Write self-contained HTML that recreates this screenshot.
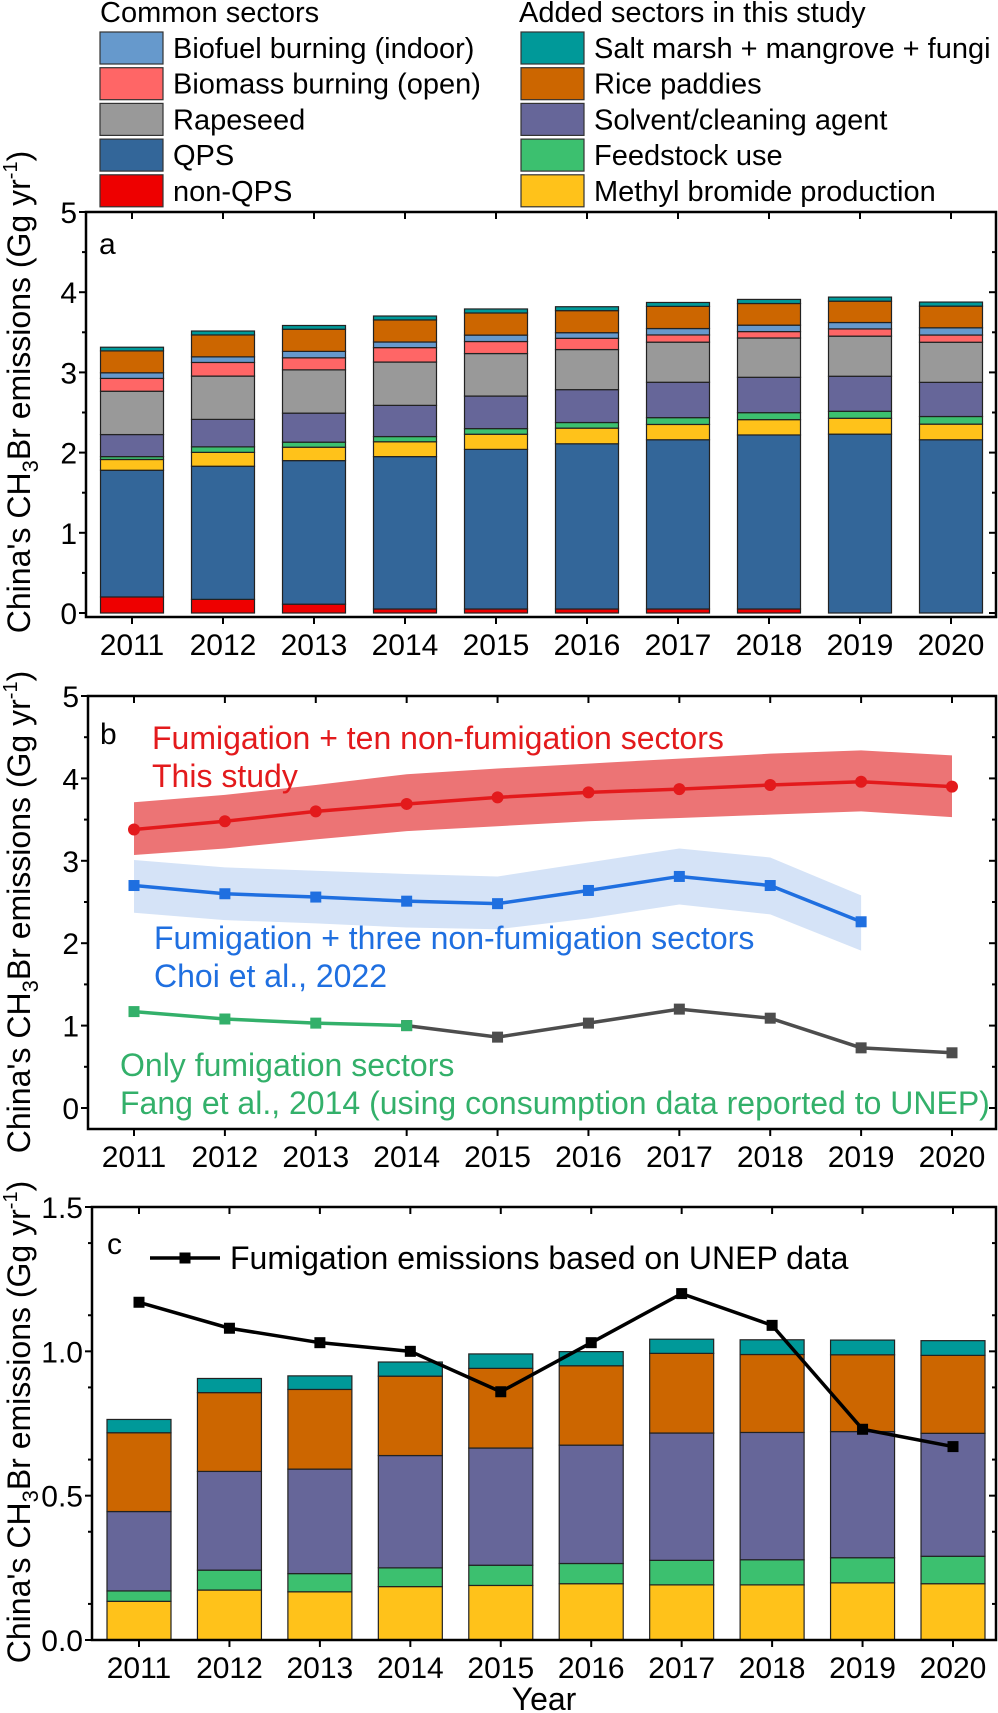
<!DOCTYPE html>
<html><head><meta charset="utf-8"><style>
body{margin:0;background:#fff;}
svg{display:block;font-family:"Liberation Sans",Arial,sans-serif;}
</style></head><body>
<svg id="fig" width="998" height="1713" viewBox="0 0 998 1713" xmlns="http://www.w3.org/2000/svg"></svg>
<script>
const years=[2011,2012,2013,2014,2015,2016,2017,2018,2019,2020];
// panel a common sectors
const nonQPS=[0.20,0.17,0.11,0.05,0.05,0.05,0.05,0.05,0.0,0.0];
const qps=[1.58,1.66,1.79,1.90,1.99,2.06,2.11,2.17,2.23,2.16];
const rapeseed=[0.54,0.54,0.54,0.54,0.53,0.50,0.50,0.49,0.50,0.50];
const biomassOpen=[0.16,0.17,0.15,0.18,0.15,0.14,0.09,0.08,0.09,0.09];
const biofuelIndoor=[0.07,0.07,0.08,0.07,0.08,0.07,0.08,0.08,0.08,0.09];
// added sectors
const mebrProd=[0.134,0.173,0.167,0.185,0.189,0.195,0.191,0.191,0.198,0.195];
const feedstock=[0.036,0.069,0.063,0.065,0.070,0.070,0.085,0.087,0.087,0.095];
const solvent=[0.275,0.342,0.362,0.389,0.406,0.410,0.441,0.441,0.437,0.426];
const rice=[0.273,0.273,0.276,0.275,0.276,0.275,0.276,0.270,0.266,0.270];
const saltMarsh=[0.046,0.049,0.047,0.049,0.050,0.049,0.049,0.051,0.051,0.051];
// panel b
const thisStudy=[3.38,3.48,3.60,3.69,3.77,3.83,3.87,3.92,3.96,3.90];
const thisUpper=[3.71,3.80,3.92,4.05,4.12,4.18,4.24,4.30,4.34,4.28];
const thisLower=[3.07,3.15,3.26,3.36,3.42,3.48,3.52,3.56,3.60,3.53];
const choi=[2.70,2.60,2.56,2.51,2.48,2.64,2.81,2.70,2.26];
const choiUpper=[3.01,2.92,2.88,2.84,2.81,2.98,3.15,3.04,2.58];
const choiLower=[2.37,2.28,2.24,2.19,2.17,2.30,2.47,2.35,1.91];
const fumigation=[1.17,1.08,1.03,1.00,0.86,1.03,1.20,1.09,0.73,0.67];
const ticksA=[0,1,2,3,4,5];
const ticksC=["0.0","0.5","1.0","1.5"];

const NS="http://www.w3.org/2000/svg";
const svg=document.getElementById('fig');
function el(tag,attrs,parent,text){const e=document.createElementNS(NS,tag);for(const k in attrs)e.setAttribute(k,attrs[k]);if(text!==undefined)e.textContent=text;(parent||svg).appendChild(e);return e;}

function makePanel(p){
  const g=el('g',{});
  
  
  p.g=g;
  p.x=i=>p.x0+(p.x1-p.x0)*i/9;
  p.y=v=>p.yb+(p.yt-p.yb)*(v-p.vmin)/(p.vmax-p.vmin);
  return p;
}
function drawAxes(p,ticks,minorStep){
  const g=p.g;
  const fr=el('rect',{x:p.L,y:p.T,width:p.R-p.L,height:p.B-p.T,fill:'none',stroke:'#000','stroke-width':2.5},g);
  
  
  ticks.forEach(t=>{const v=parseFloat(t);const yy=p.y(v);
    el('line',{x1:p.L-7,x2:p.L,y1:yy,y2:yy,stroke:'#000','stroke-width':2},g);
    el('line',{x1:p.R-7,x2:p.R,y1:yy,y2:yy,stroke:'#000','stroke-width':2},g);
    const tl=el('text',{x:p.L-9,y:yy+11,'text-anchor':'end','font-size':30},g,String(t));
    
    
  });
  for(let v=p.vmin+minorStep;v<p.vmax;v+=minorStep*2){const yy=p.y(v);
    el('line',{x1:p.L-4,x2:p.L,y1:yy,y2:yy,stroke:'#000','stroke-width':2},g);
    el('line',{x1:p.R-4,x2:p.R,y1:yy,y2:yy,stroke:'#000','stroke-width':2},g);}
  years.forEach((yr,i)=>{const xx=p.x(i);
    el('line',{x1:xx,x2:xx,y1:p.B,y2:p.B+7,stroke:'#000','stroke-width':2},g);
    el('line',{x1:xx,x2:xx,y1:p.T,y2:p.T+7,stroke:'#000','stroke-width':2},g);
    const tl=el('text',{x:xx,y:p.B+38,'text-anchor':'middle','font-size':30},g,String(yr));
    
    
  });
  const yt=el('text',{transform:`translate(${p.titleX},${p.titleY}) rotate(-90)`,'text-anchor':'middle','font-size':32},g);
  
  
  el('tspan',{},yt,"China's CH");
  el('tspan',{dy:8,'font-size':22},yt,"3");
  el('tspan',{dy:-8},yt,"Br emissions (Gg yr");
  el('tspan',{dy:-13,'font-size':20},yt,"-1");
  el('tspan',{dy:13},yt,")");
}
function stackBars(p,series,colors,names){
  years.forEach((yr,i)=>{let base=0;
    series.forEach((s,k)=>{const v=s[i];if(v<=0)return;
      const y0=p.y(base),y1=p.y(base+v);
      const r=el('rect',{x:p.x(i)-p.bw/2,y:y1,width:p.bw,height:y0-y1,fill:colors[k],stroke:'#222','stroke-width':1.2},p.g);
      
      
      base+=v;});
  });
}
const C={nonqps:'#ee0000',qps:'#336699',rape:'#999999',biomass:'#ff6666',biofuel:'#6699cc',mebr:'#ffc21a',feed:'#3cc06f',solvent:'#666699',rice:'#cc6600',salt:'#009999'};

// Legend
const lg=el('g',{});


el('text',{x:100,y:22,'font-size':29},lg,'Common sectors');
el('text',{x:519,y:22,'font-size':29},lg,'Added sectors in this study');
const leftL=[['Biofuel burning (indoor)',C.biofuel],['Biomass burning (open)',C.biomass],['Rapeseed',C.rape],['QPS',C.qps],['non-QPS',C.nonqps]];
const rightL=[['Salt marsh + mangrove + fungi',C.salt],['Rice paddies',C.rice],['Solvent/cleaning agent',C.solvent],['Feedstock use',C.feed],['Methyl bromide production',C.mebr]];
[[leftL,100,173],[rightL,521,594]].forEach(([arr,sx,tx])=>{arr.forEach((it,k)=>{const cy=48+35.7*k;
  const e=el('g',{},lg);
  
  
  el('rect',{x:sx,y:cy-16,width:63,height:32,fill:it[1],stroke:'#333','stroke-width':1.2},e);
  el('text',{x:tx,y:cy+10,'font-size':29},e,it[0]);});});

// Panel a
const pa=makePanel({name:'panel-a',L:86,R:996,T:212,B:617,x0:132,x1:951,yb:613,yt:212,vmin:0,vmax:5,bw:63,titleX:30,titleY:392});
stackBars(pa,[nonQPS,qps,mebrProd,feedstock,solvent,rapeseed,biomassOpen,biofuelIndoor,rice,saltMarsh],
 [C.nonqps,C.qps,C.mebr,C.feed,C.solvent,C.rape,C.biomass,C.biofuel,C.rice,C.salt],
 ['nonqps','qps','mebr','feedstock','solvent','rapeseed','biomass','biofuel','rice','salt']);
drawAxes(pa,ticksA,0.5);
el('text',{x:99,y:254,'font-size':30},pa.g,'a');

// Panel b
const pb=makePanel({name:'panel-b',L:88,R:996,T:696,B:1129,x0:134,x1:952,yb:1108,yt:696,vmin:0,vmax:5,titleX:30,titleY:912});
function band(up,lo,fill,name){let d='';up.forEach((v,i)=>{d+=(i?'L':'M')+pb.x(i)+','+pb.y(v);});
  for(let i=lo.length-1;i>=0;i--)d+='L'+pb.x(i)+','+pb.y(lo[i]);
  const b=el('path',{d:d+'Z',fill:fill,stroke:'none'},pb.g);}
function line(vals,color,name,marker,from,to){const idx=[];for(let i=from;i<=to;i++)idx.push(i);
  const l=el('polyline',{points:idx.map(i=>pb.x(i)+','+pb.y(vals[i])).join(' '),fill:'none',stroke:color,'stroke-width':3.5},pb.g);
  
  idx.forEach(i=>{let m;if(marker==='c')m=el('circle',{cx:pb.x(i),cy:pb.y(vals[i]),r:6,fill:color},pb.g);
    else m=el('rect',{x:pb.x(i)-5.5,y:pb.y(vals[i])-5.5,width:11,height:11,fill:color},pb.g);
    });}
band(thisUpper,thisLower,'#ec7475','this-study-band');
band(choiUpper,choiLower,'#d5e3f7','choi-band');
line(thisStudy,'#e31a1c','this-study-line','c',0,9);
line(choi,'#1f6fe0','choi-line','s',0,8);
line(fumigation,'#4d4d4d','fumigation-line','s',3,9);
line(fumigation,'#33b06a','fang-line','s',0,3);
drawAxes(pb,ticksA,0.5);
el('text',{x:100,y:744,'font-size':30},pb.g,'b');
[['Fumigation + ten non-fumigation sectors',152,749,'#e31a1c'],['This study',152,787,'#e31a1c'],
 ['Fumigation + three non-fumigation sectors',154,949,'#1f6fe0'],['Choi et al., 2022',154,987,'#1f6fe0'],
 ['Only fumigation sectors',120,1076,'#33b06a'],['Fang et al., 2014 (using consumption data reported to UNEP)',120,1114,'#33b06a']].forEach(t=>{
  const e=el('text',{x:t[1],y:t[2],'font-size':32,fill:t[3]},pb.g,t[0]);
  });

// Panel c
const pc=makePanel({name:'panel-c',L:92,R:996,T:1207,B:1640,x0:139,x1:953,yb:1640,yt:1207,vmin:0,vmax:1.5,bw:64,titleX:30,titleY:1422});
stackBars(pc,[mebrProd,feedstock,solvent,rice,saltMarsh],[C.mebr,C.feed,C.solvent,C.rice,C.salt],['mebr','feedstock','solvent','rice','salt']);
{const l=el('polyline',{points:fumigation.map((v,i)=>pc.x(i)+','+pc.y(v)).join(' '),fill:'none',stroke:'#000','stroke-width':3.5},pc.g);
 
 fumigation.forEach((v,i)=>{const m=el('rect',{x:pc.x(i)-5.5,y:pc.y(v)-5.5,width:11,height:11,fill:'#000'},pc.g);
 });}
drawAxes(pc,ticksC,0.125);
el('text',{x:107,y:1254,'font-size':30},pc.g,'c');
const lc=el('g',{},pc.g);
el('line',{x1:150,x2:220,y1:1258,y2:1258,stroke:'#000','stroke-width':3.5},lc);
el('rect',{x:179.5,y:1252.5,width:11,height:11,fill:'#000'},lc);
el('text',{x:230,y:1269,'font-size':32},lc,'Fumigation emissions based on UNEP data');
const xt=el('text',{x:544,y:1710,'text-anchor':'middle','font-size':32},pc.g,'Year');

</script>
</body></html>
